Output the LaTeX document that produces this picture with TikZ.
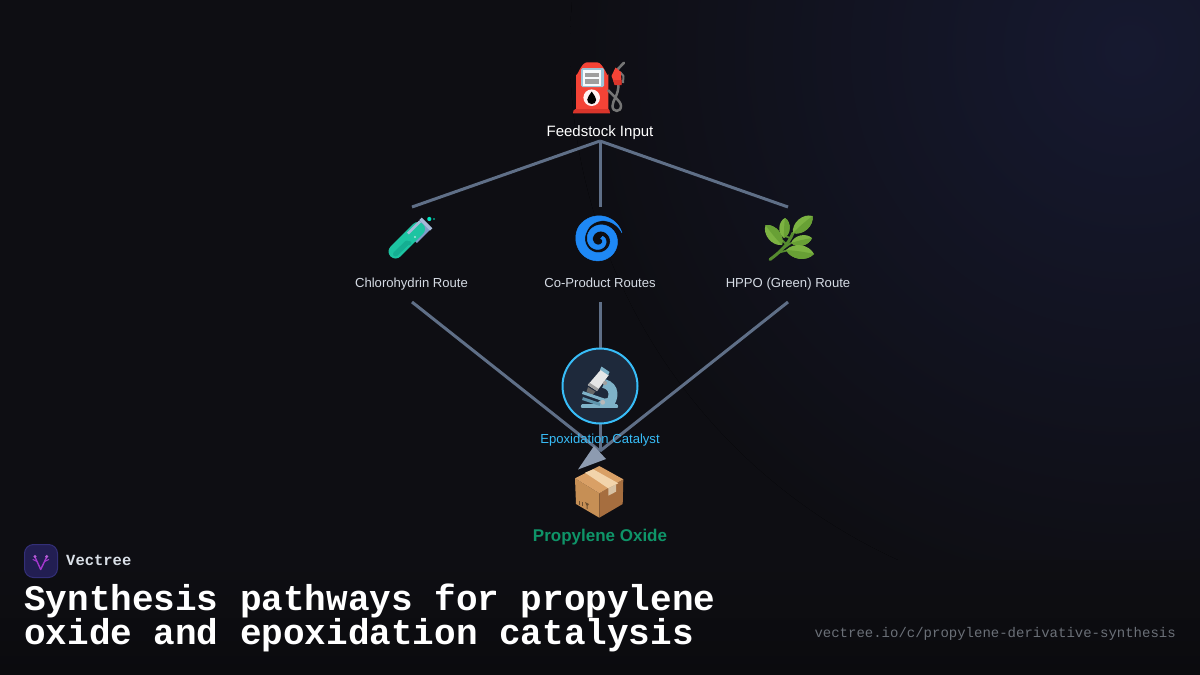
\documentclass[tikz,border=0pt]{standalone}
\usepackage{fontspec}
\setmainfont{Liberation Sans}
\setmonofont{Liberation Mono}
\definecolor{bgc}{HTML}{0E0E13}
\definecolor{bgdark}{HTML}{0B0B0E}
\definecolor{glow}{HTML}{161930}
\definecolor{edgec}{HTML}{5F6F87}
\definecolor{tipc}{HTML}{8D9BB0}
\definecolor{skyc}{HTML}{38BDF8}
\definecolor{circc}{HTML}{1E293B}
\definecolor{routec}{HTML}{D5DBE4}
\definecolor{prodc}{HTML}{0E9468}
\definecolor{urlc}{HTML}{6B7078}
\definecolor{redc}{HTML}{F44336}
\definecolor{reddk}{HTML}{D9352B}
\definecolor{hosec}{HTML}{757575}
\definecolor{framec}{HTML}{9CC4D6}
\definecolor{barc}{HTML}{9E9E9E}
\definecolor{tealc}{HTML}{1DC4A2}
\definecolor{tealdk}{HTML}{15AE92}
\definecolor{glassc}{HTML}{7F9CC8}
\definecolor{bubc}{HTML}{00E5C0}
\definecolor{spiralc}{HTML}{1E88F5}
\definecolor{leafa}{HTML}{7CB342}
\definecolor{leafb}{HTML}{68A035}
\definecolor{stemc}{HTML}{558B2F}
\definecolor{micb}{HTML}{7FB2C8}
\definecolor{micd}{HTML}{5F94AC}
\definecolor{micw}{HTML}{E6E6E6}
\definecolor{boxt}{HTML}{D9A066}
\definecolor{boxl}{HTML}{C68F55}
\definecolor{boxr}{HTML}{A66E3F}
\definecolor{tapet}{HTML}{F2D4AB}
\definecolor{taper}{HTML}{D8C2A4}
\definecolor{logof}{HTML}{221E52}
\definecolor{logos}{HTML}{332F78}
\definecolor{logop}{HTML}{A237CC}
\tikzset{
  edgeline/.style={draw=edgec,line width=3pt},
  toplabel/.style={anchor=base,font=\fontsize{15}{18}\selectfont,text=white,inner sep=0pt},
  routelabel/.style={anchor=base,font=\fontsize{13.1}{16}\selectfont,text=routec,inner sep=0pt},
  catlabel/.style={anchor=base,font=\fontsize{13.1}{16}\selectfont,text=skyc,inner sep=0pt},
  prodlabel/.style={anchor=base,font=\bfseries\fontsize{17}{20}\selectfont,text=prodc,inner sep=0pt},
  catcircle/.style={circle,draw=skyc,fill=circc,line width=2pt,minimum size=75pt,inner sep=0pt},
}
\newcommand{\leafy}[3]{%
  \fill[leafa] (#1) to[bend left=#3] (#2) to[bend left=#3] (#1);
  \fill[leafb] (#1) to[bend left=#3] (#2) to[bend left=4] (#1);
}
\begin{document}
\begin{tikzpicture}[x=1pt,y=-1pt]
\useasboundingbox (0,0) rectangle (1200,675);
% background
\fill[bgc] (0,0) rectangle (1200,675);
\begin{scope}
\clip (0,0) rectangle (1200,675);
\fill[inner color=glow,outer color=bgc] (1130,50) circle (560);
\fill[top color=bgc,bottom color=bgdark] (0,560) rectangle (1200,675);
\end{scope}

% anchors of the connectors
\coordinate (feedout) at (600,141);
\coordinate (chlin) at (412,207);
\coordinate (coin) at (600,207);
\coordinate (hppoin) at (788,207);
\coordinate (chlout) at (412,302);
\coordinate (coout) at (600,302);
\coordinate (hppoout) at (788,302);
\coordinate (prodin) at (600,451);
\coordinate (tipa) at (578,469.5);
\coordinate (tipb) at (606,459);
\coordinate (tipc) at (594,446);

% connectors
\draw[edgeline] (feedout) -- (chlin);
\draw[edgeline] (feedout) -- (coin);
\draw[edgeline] (feedout) -- (hppoin);
\draw[edgeline] (chlout) -- (prodin);
\draw[edgeline] (coout) -- (prodin);
\draw[edgeline] (hppoout) -- (prodin);
\fill[tipc] (tipa) -- (tipb) -- (tipc) -- cycle;

% fuel pump
\begin{scope}
\fill[redc] (576,112) -- (576,74) to[out=-90,in=180] (587,62.3) -- (597,62.3) to[out=0,in=-90] (608.3,74) -- (608.3,112) -- cycle;
\fill[reddk] (573,113.3) -- (573.5,110.5) -- (575.5,109) -- (608.5,109) -- (609.5,110.5) -- (610,113.3) -- cycle;
\fill[framec,rounded corners=1.5pt] (581,68) rectangle (604,87);
\fill[white!92!framec] (583,70) rectangle (601,85.5);
\fill[barc] (585,72.5) rectangle (599,77);
\fill[barc] (585,79) rectangle (599,83.5);
\fill[white!95!red] (591.7,97.7) circle (8.3);
\fill[black] (591.7,91.5) .. controls (589.7,95) and (587.2,97) .. (587.2,99.8) .. controls (587.2,105.5) and (596.2,105.5) .. (596.2,99.8) .. controls (596.2,97) and (593.7,95) .. (591.7,91.5) -- cycle;
\draw[hosec,line width=2.5pt] (608,90) .. controls (612,95) and (621,101) .. (621,106) .. controls (621,112.5) and (612.5,112.5) .. (612.5,106) .. controls (612.5,100) and (619,95) .. (618.3,84);
\draw[hosec,line width=2.6pt,line cap=round] (617,70) -- (624,62.7);
\draw[hosec,line width=2pt,line join=round] (620,72) -- (623.5,76) -- (623,83);
\fill[redc] (615.5,67.5) -- (621,72) -- (621.5,84) -- (614.5,84) -- (611.5,76) -- cycle;
\fill[reddk] (613,80) -- (621.5,80) -- (621.5,85) -- (614.5,85) -- cycle;
\end{scope}

% test tube
\begin{scope}
\draw[glassc,line width=14pt] (412,238) -- (425.5,224.5);
\draw[tealc,line width=14pt,line cap=round] (395.5,251.5) -- (418,229);
\draw[glassc!70!white,line width=2.5pt] (408,233.5) -- (420,221.5);
\draw[tealdk,line width=5pt,line cap=round] (395.5,254) -- (407,243);
\draw[glassc!70!white,line width=3.4pt] (420.5,218.8) -- (431.2,229.5);
\fill[bubc] (429.3,219) circle (2.1);
\fill[bubc] (434,219) circle (0.9);
\fill[white!60!tealc] (415,237) circle (1.1);
\fill[tealdk] (409.5,243) circle (2);
\end{scope}

% cyclone
\fill[spiralc,line join=round,draw=spiralc,line width=0.5pt]
  plot[domain=18:770,samples=170,variable=\t]
    ({599.5+(24-0.027*\t+0.5*min((\t-18)/14,9-(\t-180)*0.01))*cos(\t)},{240-(24-0.027*\t+0.5*min((\t-18)/14,9-(\t-180)*0.01))*sin(\t)})
  -- plot[domain=770:18,samples=170,variable=\t]
    ({599.5+(24-0.027*\t-0.5*min((\t-18)/14,9-(\t-180)*0.01))*cos(\t)},{240-(24-0.027*\t-0.5*min((\t-18)/14,9-(\t-180)*0.01))*sin(\t)})
  -- cycle;

% herb
\begin{scope}
\draw[stemc,line width=3pt,line cap=round] (770,259.5) .. controls (780,252) and (788,245) .. (793,233);
\draw[stemc,line width=1.8pt] (784,248) -- (791,243);
\draw[stemc,line width=1.8pt] (779,252.5) -- (787,250.5);
\draw[stemc,line width=1.8pt] (786,244) -- (782,240);
\draw[stemc,line width=1.8pt] (790,238) -- (785,236);
\leafy{812.5,216}{793,233}{58}
\leafy{785,218}{784,238}{62}
\leafy{765.5,225}{782,245}{58}
\leafy{812,238}{791,243}{55}
\leafy{814,254}{786,250}{55}
\end{scope}

% catalyst circle
\node[catcircle] (catalyst) at (600,386) {};

% microscope
\begin{scope}
\fill[micb,rounded corners=1pt] (580.7,407.8) -- (581.5,404) -- (617.5,404) -- (618.3,407.8) -- cycle;
\fill[micb] (596,405) .. controls (599,400) and (603,398.5) .. (608,398) -- (616,405) -- cycle;
\draw[micb,line width=9pt] (604,383.5) .. controls (616,387) and (614,398) .. (609,405);
\fill[micw] (601,369.5) -- (608.8,375) -- (597,391) -- (587.8,385) -- cycle;
\fill[micw!70!black] (589.5,382.7) -- (598.6,388.8) -- (597,391) -- (587.8,385) -- cycle;
\fill[micb] (601.5,366.5) -- (609.6,372) -- (608,375) -- (600,369.5) -- cycle;
\fill[black!60] (588,387) -- (595.5,391.5) -- (592.5,395) -- (586.5,391.5) -- cycle;
\draw[micb,line width=3pt] (582.5,392.5) -- (604,400);
\draw[micd,line width=3pt] (582.5,398.5) -- (600,404.5);
\fill[micw!80!black] (602.7,402.3) circle (2.4);
\fill[micw!70!black] (605,383) circle (2.1);
\end{scope}

% box
\begin{scope}
\fill[boxl] (575,478.3) -- (599.3,493.3) -- (599.3,517.7) -- (576,504) -- cycle;
\fill[boxr] (623.3,479.3) -- (599.3,493.3) -- (599.3,517.7) -- (622.7,504) -- cycle;
\fill[boxt] (599.3,466) -- (623.3,479.3) -- (599.3,493.3) -- (575,478.3) -- cycle;
\fill[tapet] (585,472.7) -- (593.3,469.3) -- (618.3,483.3) -- (608.3,488.3) -- cycle;
\fill[taper] (608.3,488.3) -- (616,484.3) -- (616,491.7) -- (608.3,495.7) -- cycle;
\fill[boxl!55!black] (579,501) rectangle (580.3,505);
\fill[boxl!55!black] (581.8,501.5) rectangle (583.1,506);
\fill[boxl!55!black] (585,502) -- (589,504) -- (587.5,506) -- (587.5,509) -- (586.5,508.5) -- (586.5,505.5) -- cycle;
\end{scope}

% logo
\fill[logof,draw=logos,line width=1pt,rounded corners=9pt] (24.5,544.5) rectangle (57.5,577.5);
\draw[logop,line width=1.4pt,line join=round,line cap=round] (35,557) -- (40.7,569.5) -- (46.7,557);
\draw[logop,line width=1pt,line cap=round] (37,561.5) -- (33,559.5);
\draw[logop,line width=1pt,line cap=round] (44.7,561.5) -- (48.7,559.5);
\fill[logop!80!white] (35,556.5) circle (1.7);
\fill[logop!80!white] (46.7,556.5) circle (1.7);

% labels
\node[toplabel] (feedlabel) at (600,136) {Feedstock Input};
\node[routelabel] (chllabel) at (411.5,287) {Chlorohydrin Route};
\node[routelabel] (colabel) at (600,287) {Co-Product Routes};
\node[routelabel] (hppolabel) at (788,287) {HPPO (Green) Route};
\node[catlabel] (catlabel) at (600,443) {Epoxidation Catalyst};
\node[prodlabel] (prodlabel) at (600,541.5) {Propylene Oxide};

% footer
\node[anchor=base west,inner sep=0pt,text=routec!90!white,font=\ttfamily\bfseries\fontsize{15.5}{18}\selectfont] (brand) at (66,565.5) {Vectree};
\node[anchor=base west,inner sep=0pt,text=white,align=left,font=\ttfamily\bfseries\fontsize{36}{33}\selectfont] (title) at (24,644) {Synthesis pathways for propylene\\[-1pt]oxide and epoxidation catalysis};
\node[anchor=base east,inner sep=0pt,text=urlc,font=\ttfamily\fontsize{14}{16}\selectfont] (url) at (1176,637) {vectree.io/c/propylene-derivative-synthesis};
\end{tikzpicture}
\end{document}
